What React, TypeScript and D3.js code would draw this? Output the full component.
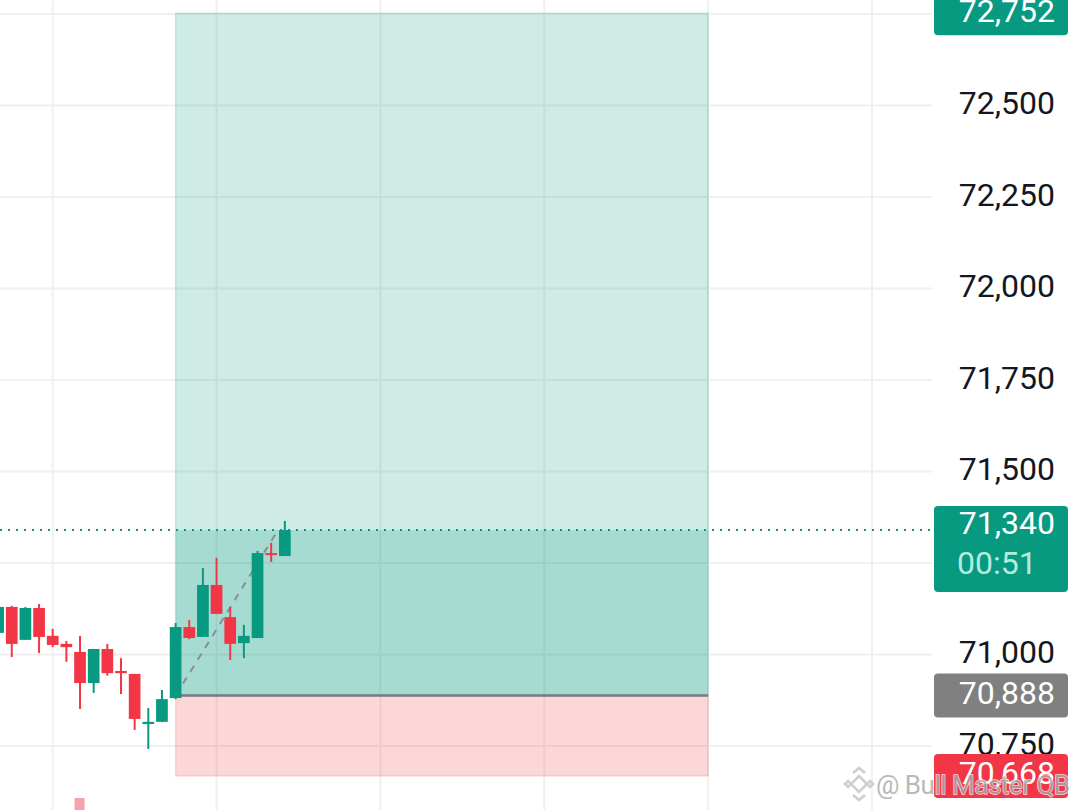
import { useEffect, useRef } from 'react';
import * as d3 from 'd3';

// candles (5m)
const opens = [71059, 71130, 71040, 71127, 71051, 71029, 71007, 70922, 71015, 70955, 70947, 70810, 70816, 70881, 71075, 71048, 71190, 71102, 71031, 71045, 71277, 71269];
const highs = [71135, 71133, 71130, 71138, 71070, 71037, 71051, 71015, 71029, 70990, 70947, 70854, 70903, 71086, 71094, 71236, 71264, 71130, 71081, 71283, 71305, 71365];
const lows = [71050, 70993, 71040, 71004, 71020, 70980, 70851, 70895, 70942, 70892, 70794, 70742, 70816, 70878, 71042, 71048, 71111, 70985, 70990, 71045, 71253, 71269];
const closes = [71130, 71029, 71127, 71048, 71026, 71020, 70922, 71015, 70949, 70949, 70824, 70816, 70878, 71075, 71045, 71190, 71111, 71029, 71051, 71277, 71275, 71340];

const priceTicks = [70750, 71000, 71250, 71500, 71750, 72000, 72250, 72500, 72750];
const timeGrid = [4, 16, 28, 40, 52, 64];

// long position tool
const entryPrice = 70888;
const targetPrice = 72752;
const stopPrice = 70668;
const lastPrice = 71340;
const countdown = '00:51';
const positionStart = 13;
const positionEnd = 52;
const tradeLineEnd = 20.5;

export default function App() {
    const svgRef = useRef<SVGSVGElement>(null);
    const width = 1080;
    const height = 810;

    useEffect(() => {
        if (!svgRef.current) return;
        document.body.style.margin = '0';
        d3.select(svgRef.current).selectAll('*').remove();

        const svg = d3.select(svgRef.current);
        const green = '#089981';
        const red = '#f23645';
        const plotRight = 932;
        const font = 'Roboto, sans-serif';

        const x = d3.scaleLinear().domain([0, 64]).range([-1.9, 872]);
        const y = d3.scaleLinear().domain([70500, 72750]).range([837.5, 14]);
        const bodyW = 11.7;

        svg.append('rect').attr('width', width).attr('height', height).attr('fill', '#fff');

        // grid
        const grid = svg.append('g').attr('stroke', '#f0f0f0').attr('stroke-width', 2);
        grid.selectAll('.h').data(priceTicks).enter().append('line')
            .attr('x1', 0).attr('x2', plotRight)
            .attr('y1', d => y(d)).attr('y2', d => y(d));
        grid.selectAll('.v').data(timeGrid).enter().append('line')
            .attr('x1', d => x(d)).attr('x2', d => x(d))
            .attr('y1', 0).attr('y2', height);

        // position boxes
        const bx0 = x(positionStart);
        const bx1 = x(positionEnd);
        svg.append('rect')
            .attr('x', bx0).attr('width', bx1 - bx0)
            .attr('y', y(targetPrice)).attr('height', y(entryPrice) - y(targetPrice))
            .attr('fill', green).attr('fill-opacity', 0.2)
            .attr('stroke', green).attr('stroke-opacity', 0.18).attr('stroke-width', 1.5);
        svg.append('rect')
            .attr('x', bx0).attr('width', bx1 - bx0)
            .attr('y', y(lastPrice)).attr('height', y(entryPrice) - y(lastPrice))
            .attr('fill', green).attr('fill-opacity', 0.2);
        svg.append('rect')
            .attr('x', bx0).attr('width', bx1 - bx0)
            .attr('y', y(entryPrice)).attr('height', y(stopPrice) - y(entryPrice))
            .attr('fill', red).attr('fill-opacity', 0.2)
            .attr('stroke', red).attr('stroke-opacity', 0.15).attr('stroke-width', 1.5);
        svg.append('line')
            .attr('x1', bx0).attr('x2', bx1)
            .attr('y1', y(entryPrice)).attr('y2', y(entryPrice))
            .attr('stroke', '#787b86').attr('stroke-width', 2.5);

        // dashed trade line
        svg.append('line')
            .attr('x1', bx0).attr('y1', y(entryPrice))
            .attr('x2', x(tradeLineEnd)).attr('y2', y(lastPrice))
            .attr('stroke', '#8a8d96').attr('stroke-width', 2)
            .attr('stroke-dasharray', '7,7');

        // candles
        const idx = d3.range(opens.length);
        const candles = svg.append('g');
        candles.selectAll('.wick').data(idx).enter().append('line')
            .attr('x1', i => x(i)).attr('x2', i => x(i))
            .attr('y1', i => y(highs[i])).attr('y2', i => y(lows[i]))
            .attr('stroke', i => closes[i] >= opens[i] ? green : red)
            .attr('stroke-width', 2);
        candles.selectAll('.body').data(idx).enter().append('rect')
            .attr('x', i => x(i) - bodyW / 2).attr('width', bodyW)
            .attr('y', i => y(Math.max(opens[i], closes[i])))
            .attr('height', i => Math.max(2, Math.abs(y(opens[i]) - y(closes[i]))))
            .attr('fill', i => closes[i] >= opens[i] ? green : red);

        // last price dotted line
        svg.append('line')
            .attr('x1', 0).attr('x2', 934)
            .attr('y1', y(lastPrice)).attr('y2', y(lastPrice))
            .attr('stroke', green).attr('stroke-width', 2)
            .attr('stroke-dasharray', '2,6');

        // price axis (ticks under the price labels are hidden in the original)
        const covered = [targetPrice, lastPrice];
        const shownTicks = priceTicks.filter(t => !covered.some(c => Math.abs(y(c) - y(t)) < 40));
        const axis = svg.append('g')
            .attr('transform', 'translate(1055,0)')
            .call(d3.axisRight(y).tickValues(shownTicks).tickSize(0).tickPadding(0).tickFormat(d3.format(',')));
        axis.select('.domain').remove();
        axis.selectAll('text')
            .attr('text-anchor', 'end')
            .attr('dy', '0.26em')
            .style('font-family', font)
            .style('font-size', '32px')
            .style('fill', '#131722');

        // price labels
        const label = (price: number, fill: string, h = 44, top?: number, shift = 0) => {
            const t = top ?? y(price) - h / 2;
            svg.append('rect')
                .attr('x', 934).attr('y', t).attr('width', 134).attr('height', h)
                .attr('rx', 4).attr('fill', fill);
            svg.append('text')
                .attr('x', 1055).attr('y', y(price) + shift).attr('dy', '0.26em')
                .attr('text-anchor', 'end')
                .style('font-family', font).style('font-size', '32px')
                .style('fill', '#fff')
                .text(d3.format(',')(price));
        };
        label(targetPrice, green);
        label(entryPrice, '#808080');
        label(stopPrice, red);
        label(lastPrice, green, 86, y(lastPrice) - 24, -4);
        svg.append('text')
            .attr('x', 957).attr('y', y(lastPrice) + 32).attr('dy', '0.36em')
            .style('font-family', font).style('font-size', '32px')
            .style('fill', '#b4ebde')
            .text(countdown);

        // watermark
        const wm = svg.append('g').attr('opacity', 0.8);
        const logo = wm.append('g').attr('transform', 'translate(859,784)')
            .attr('fill', 'none').attr('stroke', '#c4c4c4').attr('stroke-width', 2.5);
        logo.append('path').attr('d', 'M0,-8 L8,0 L0,8 L-8,0 Z');
        logo.append('path').attr('d', 'M-14,0 L-11,-3 L-8,0 L-11,3 Z');
        logo.append('path').attr('d', 'M14,0 L11,-3 L8,0 L11,3 Z');
        logo.append('path').attr('d', 'M-6,-11 L0,-16 L6,-11');
        logo.append('path').attr('d', 'M-6,11 L0,16 L6,11');
        wm.append('text')
            .attr('x', 876).attr('y', 794)
            .attr('textLength', 194)
            .style('font-family', font).style('font-size', '26px')
            .style('fill', '#a8a8a8')
            .style('stroke', '#ffffff').style('stroke-width', 1.5).style('paint-order', 'stroke')
            .text('@ Bull Master QB');

        // stray marker at bottom-left
        svg.append('rect')
            .attr('x', x(5.6)).attr('y', 798).attr('width', 10).attr('height', 12)
            .attr('fill', '#f4a3ad');
    }, []);

    return (
        <div style={{ position: 'fixed', left: 0, top: 0 }}>
            <svg ref={svgRef} width={width} height={height} style={{ display: 'block' }} />
        </div>
    );
}
